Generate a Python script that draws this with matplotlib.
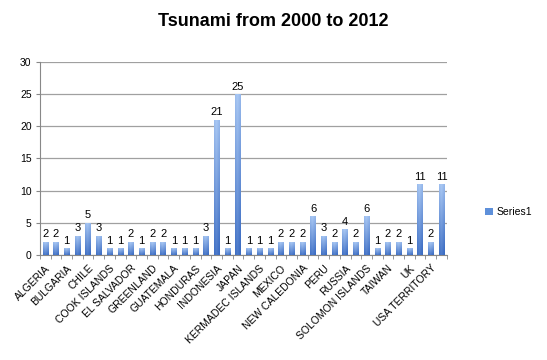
import matplotlib
matplotlib.use("Agg")
import matplotlib.pyplot as plt
import numpy as np
from matplotlib.colors import to_rgb
from matplotlib.patches import Patch

plt.rcParams['font.family'] = ['Liberation Sans', 'DejaVu Sans']

categories = ["ALGERIA", "AMERICAN SAMOA", "BULGARIA", "CANADA", "CHILE", "CHINA",
              "COOK ISLANDS", "ECUADOR", "EL SALVADOR", "FIJI", "GREENLAND", "GREECE",
              "GUATEMALA", "HAITI", "HONDURAS", "INDIA", "INDONESIA", "IRAN", "JAPAN",
              "KENYA", "KERMADEC ISLANDS", "MADAGASCAR", "MEXICO", "NEW ZEALAND",
              "NEW CALEDONIA", "PAPUA NEW GUINEA", "PERU", "PHILIPPINES", "RUSSIA",
              "SAMOA", "SOLOMON ISLANDS", "SRI LANKA", "TAIWAN", "TONGA", "UK", "USA",
              "USA TERRITORY", "VANUATU"]
values = [2, 2, 1, 3, 5, 3, 1, 1, 2, 1, 2, 2, 1, 1, 1, 3, 21, 1, 25, 1,
          1, 1, 2, 2, 2, 6, 3, 2, 4, 2, 6, 1, 2, 2, 1, 11, 2, 11]
series_name = "Series1"
title = "Tsunami from 2000 to 2012"
yticks = [0, 5, 10, 15, 20, 25, 30]

fig = plt.figure(figsize=(5.47, 3.6), dpi=100)
ax = fig.add_axes([0.073, 0.292, 0.744, 0.536])

x = np.arange(len(categories))
bars = ax.bar(x, values, width=0.5, color='#5E90DA', edgecolor='none', zorder=2)

# gradient: dark at bottom, light at top, slightly lighter in the middle horizontally
dark = np.array(to_rgb('#3A6BC2'))
light = np.array(to_rgb('#A8C7F3'))
ny, nx = 64, 16
tv = np.linspace(0, 1, ny)[:, None, None]          # 0 bottom .. 1 top (origin lower)
th = np.linspace(-1, 1, nx)[None, :, None]
hmod = 0.18 * (1 - np.abs(th + 0.2))
img = dark + (light - dark) * np.clip(tv * 0.85 + hmod, 0, 1)
img = np.clip(img, 0, 1)

for b in bars:
    x0, w, h = b.get_x(), b.get_width(), b.get_height()
    im = ax.imshow(img, aspect='auto', extent=[x0, x0 + w, 0, h], origin='lower',
                   zorder=3, interpolation='bilinear')
    im.set_clip_path(b)

for xi, v in zip(x, values):
    ax.text(xi, v + 0.4, str(v), ha='center', va='bottom', fontsize=8, color='black')

ax.set_xlim(-0.5, len(categories) - 0.5)
ax.set_ylim(0, 30)
ax.set_yticks(yticks)
ax.tick_params(axis='y', labelsize=7.5, length=3, color='#888888', pad=3)
ax.yaxis.grid(True, color='#A0A0A0', linewidth=0.9, zorder=0)
ax.set_axisbelow(True)

ax.set_xticks(x)
ax.set_xticklabels([c if i % 2 == 0 else '' for i, c in enumerate(categories)],
                   rotation=45, ha='right', rotation_mode='anchor', fontsize=7.5)
ax.tick_params(axis='x', length=0, pad=6)
ax.set_xticks(np.arange(-0.5, len(categories), 1), minor=True)
ax.tick_params(axis='x', which='minor', length=3, color='#888888')

for s in ['top', 'right']:
    ax.spines[s].set_visible(False)
ax.spines['left'].set_color('#888888')
ax.spines['bottom'].set_color('#888888')

fig.text(0.5, 0.94, title, ha='center', va='center', fontsize=13, fontweight='bold')

fig.legend(handles=[Patch(facecolor='#5E90DA', label=series_name)],
           loc='center left', bbox_to_anchor=(0.87, 0.41), frameon=False,
           fontsize=7.5, handlelength=0.7, handleheight=0.7, handletextpad=0.4)

fig.savefig('out.png', dpi=100)
